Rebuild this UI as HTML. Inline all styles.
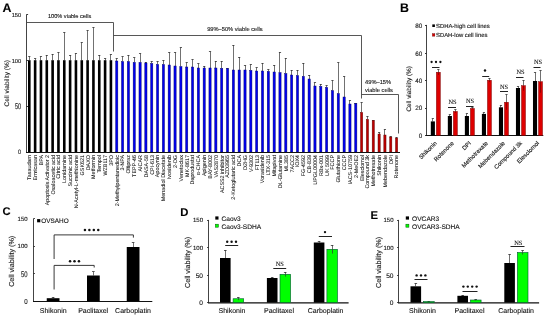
<!DOCTYPE html>
<html><head><meta charset="utf-8"><style>
html,body{margin:0;padding:0;background:#fff;}
svg{display:block;} text{stroke:#222;stroke-width:0.12px;text-rendering:geometricPrecision;} text.n{stroke-width:0.05px;}
</style></head><body>
<svg width="550" height="320" viewBox="0 0 550 320" style="will-change:transform">
<rect x="0" y="0" width="550" height="320" fill="#fff"/>
<text x="2.4" y="11.9" font-size="12.4" text-anchor="start" font-weight="bold" font-family='"Liberation Sans", sans-serif' fill="#000">A</text>
<path d="M26.5,152 V14.4" fill="none" stroke="#444" stroke-width="1"/>
<line x1="26.5" y1="14.5" x2="28.1" y2="14.5" stroke="#222" stroke-width="0.9"/>
<line x1="26.5" y1="60.5" x2="28.1" y2="60.5" stroke="#222" stroke-width="0.9"/>
<line x1="26.5" y1="106.5" x2="28.1" y2="106.5" stroke="#222" stroke-width="0.9"/>
<line x1="26.5" y1="152.5" x2="28.1" y2="152.5" stroke="#222" stroke-width="0.9"/>
<text x="21.3" y="17.0" font-size="5.8" text-anchor="end" font-weight="normal" font-family='"Liberation Sans", sans-serif' fill="#111">150</text>
<text x="21.3" y="62.6" font-size="5.8" text-anchor="end" font-weight="normal" font-family='"Liberation Sans", sans-serif' fill="#111">100</text>
<text x="0" y="0" font-size="8.2" font-family='"Liberation Sans", sans-serif' fill="#111" text-anchor="end" transform="translate(21.2 109.1) scale(0.68 1)">50</text>
<text x="0" y="0" font-size="6.5" font-family='"Liberation Sans", sans-serif' fill="#111" text-anchor="end" transform="translate(21.2 154.2) scale(0.85 1)">0</text>
<text x="0" y="0" font-size="6.5" font-family='"Liberation Sans", sans-serif' fill="#111" text-anchor="middle" transform="translate(9.2 83.3) rotate(-90)">Cell viability (%)</text>
<path d="M26.5,22.5 H113.5 V51.5" fill="none" stroke="#444" stroke-width="0.9"/>
<path d="M113.5,35.5 H361.5 V98.5" fill="none" stroke="#444" stroke-width="0.9"/>
<path d="M361.5,94.5 H398.5 V133.5" fill="none" stroke="#444" stroke-width="0.9"/>
<text x="48" y="18.1" font-size="5.6" text-anchor="start" font-weight="normal" font-family='"Liberation Sans", sans-serif' fill="#111">100% viable cells</text>
<text x="207.2" y="31.0" font-size="5.7" text-anchor="start" font-weight="normal" font-family='"Liberation Sans", sans-serif' fill="#111">99%–50% viable cells</text>
<text x="365.1" y="84.3" font-size="5.7" text-anchor="start" font-weight="normal" font-family='"Liberation Sans", sans-serif' fill="#111">49%–15%</text>
<text x="365.1" y="91.6" font-size="5.7" text-anchor="start" font-weight="normal" font-family='"Liberation Sans", sans-serif' fill="#111">viable cells</text>
<line x1="29.5" y1="60.2" x2="29.5" y2="56.4" stroke="#333" stroke-width="0.7"/>
<line x1="28.2" y1="56.5" x2="30.400000000000002" y2="56.5" stroke="#333" stroke-width="0.8"/>
<line x1="35.5" y1="60.2" x2="35.5" y2="58.6" stroke="#333" stroke-width="0.7"/>
<line x1="34.03" y1="58.5" x2="36.230000000000004" y2="58.5" stroke="#333" stroke-width="0.8"/>
<line x1="40.5" y1="60.2" x2="40.5" y2="56.4" stroke="#333" stroke-width="0.7"/>
<line x1="39.86" y1="56.5" x2="42.06" y2="56.5" stroke="#333" stroke-width="0.8"/>
<line x1="46.5" y1="60.2" x2="46.5" y2="55" stroke="#333" stroke-width="0.7"/>
<line x1="45.690000000000005" y1="55.5" x2="47.89000000000001" y2="55.5" stroke="#333" stroke-width="0.8"/>
<line x1="52.5" y1="60.2" x2="52.5" y2="54" stroke="#333" stroke-width="0.7"/>
<line x1="51.52" y1="54.5" x2="53.720000000000006" y2="54.5" stroke="#333" stroke-width="0.8"/>
<line x1="58.5" y1="60.2" x2="58.5" y2="52.4" stroke="#333" stroke-width="0.7"/>
<line x1="57.35" y1="52.5" x2="59.550000000000004" y2="52.5" stroke="#333" stroke-width="0.8"/>
<line x1="64.5" y1="60.2" x2="64.5" y2="32.3" stroke="#333" stroke-width="0.7"/>
<line x1="63.18" y1="32.5" x2="65.38" y2="32.5" stroke="#333" stroke-width="0.8"/>
<line x1="70.5" y1="60.2" x2="70.5" y2="55" stroke="#333" stroke-width="0.7"/>
<line x1="69.01" y1="55.5" x2="71.21" y2="55.5" stroke="#333" stroke-width="0.8"/>
<line x1="75.5" y1="60.2" x2="75.5" y2="53.4" stroke="#333" stroke-width="0.7"/>
<line x1="74.84" y1="53.5" x2="77.03999999999999" y2="53.5" stroke="#333" stroke-width="0.8"/>
<line x1="81.5" y1="60.2" x2="81.5" y2="42.4" stroke="#333" stroke-width="0.7"/>
<line x1="80.67" y1="42.5" x2="82.86999999999999" y2="42.5" stroke="#333" stroke-width="0.8"/>
<line x1="87.5" y1="60.2" x2="87.5" y2="30.4" stroke="#333" stroke-width="0.7"/>
<line x1="86.5" y1="30.5" x2="88.69999999999999" y2="30.5" stroke="#333" stroke-width="0.8"/>
<line x1="93.5" y1="60.2" x2="93.5" y2="27.4" stroke="#333" stroke-width="0.7"/>
<line x1="92.33" y1="27.5" x2="94.52999999999999" y2="27.5" stroke="#333" stroke-width="0.8"/>
<line x1="99.5" y1="60.2" x2="99.5" y2="55" stroke="#333" stroke-width="0.7"/>
<line x1="98.16000000000001" y1="55.5" x2="100.36" y2="55.5" stroke="#333" stroke-width="0.8"/>
<line x1="105.5" y1="60.2" x2="105.5" y2="58.5" stroke="#333" stroke-width="0.7"/>
<line x1="103.99000000000001" y1="58.5" x2="106.19" y2="58.5" stroke="#333" stroke-width="0.8"/>
<line x1="110.5" y1="60.2" x2="110.5" y2="54.3" stroke="#333" stroke-width="0.7"/>
<line x1="109.82000000000001" y1="54.5" x2="112.02" y2="54.5" stroke="#333" stroke-width="0.8"/>
<line x1="116.5" y1="61" x2="116.5" y2="58.4" stroke="#333" stroke-width="0.7"/>
<line x1="115.65" y1="58.5" x2="117.85" y2="58.5" stroke="#333" stroke-width="0.8"/>
<line x1="122.5" y1="61.6" x2="122.5" y2="56.6" stroke="#333" stroke-width="0.7"/>
<line x1="121.48" y1="56.5" x2="123.67999999999999" y2="56.5" stroke="#333" stroke-width="0.8"/>
<line x1="128.5" y1="61.6" x2="128.5" y2="55" stroke="#333" stroke-width="0.7"/>
<line x1="127.31" y1="55.5" x2="129.51" y2="55.5" stroke="#333" stroke-width="0.8"/>
<line x1="134.5" y1="62.4" x2="134.5" y2="57.6" stroke="#333" stroke-width="0.7"/>
<line x1="133.14000000000001" y1="57.5" x2="135.34" y2="57.5" stroke="#333" stroke-width="0.8"/>
<line x1="140.5" y1="62.4" x2="140.5" y2="53.6" stroke="#333" stroke-width="0.7"/>
<line x1="138.97" y1="53.5" x2="141.17" y2="53.5" stroke="#333" stroke-width="0.8"/>
<line x1="145.5" y1="63" x2="145.5" y2="62" stroke="#333" stroke-width="0.7"/>
<line x1="144.8" y1="62.5" x2="147.0" y2="62.5" stroke="#333" stroke-width="0.8"/>
<line x1="151.5" y1="63.6" x2="151.5" y2="61.4" stroke="#333" stroke-width="0.7"/>
<line x1="150.63000000000002" y1="61.5" x2="152.83" y2="61.5" stroke="#333" stroke-width="0.8"/>
<line x1="157.5" y1="64.4" x2="157.5" y2="61.4" stroke="#333" stroke-width="0.7"/>
<line x1="156.46" y1="61.5" x2="158.66" y2="61.5" stroke="#333" stroke-width="0.8"/>
<line x1="163.5" y1="64.6" x2="163.5" y2="60.4" stroke="#333" stroke-width="0.7"/>
<line x1="162.29000000000002" y1="60.5" x2="164.49" y2="60.5" stroke="#333" stroke-width="0.8"/>
<line x1="169.5" y1="65" x2="169.5" y2="52.4" stroke="#333" stroke-width="0.7"/>
<line x1="168.12000000000003" y1="52.5" x2="170.32000000000002" y2="52.5" stroke="#333" stroke-width="0.8"/>
<line x1="175.5" y1="66" x2="175.5" y2="52.4" stroke="#333" stroke-width="0.7"/>
<line x1="173.95000000000002" y1="52.5" x2="176.15" y2="52.5" stroke="#333" stroke-width="0.8"/>
<line x1="180.5" y1="66.6" x2="180.5" y2="47.6" stroke="#333" stroke-width="0.7"/>
<line x1="179.78000000000003" y1="47.5" x2="181.98000000000002" y2="47.5" stroke="#333" stroke-width="0.8"/>
<line x1="186.5" y1="67" x2="186.5" y2="62.6" stroke="#333" stroke-width="0.7"/>
<line x1="185.61" y1="62.5" x2="187.81" y2="62.5" stroke="#333" stroke-width="0.8"/>
<line x1="192.5" y1="67" x2="192.5" y2="59.6" stroke="#333" stroke-width="0.7"/>
<line x1="191.44000000000003" y1="59.5" x2="193.64000000000001" y2="59.5" stroke="#333" stroke-width="0.8"/>
<line x1="198.5" y1="68" x2="198.5" y2="63.6" stroke="#333" stroke-width="0.7"/>
<line x1="197.27" y1="63.5" x2="199.47" y2="63.5" stroke="#333" stroke-width="0.8"/>
<line x1="204.5" y1="68" x2="204.5" y2="66" stroke="#333" stroke-width="0.7"/>
<line x1="203.10000000000002" y1="66.5" x2="205.3" y2="66.5" stroke="#333" stroke-width="0.8"/>
<line x1="210.5" y1="68" x2="210.5" y2="51.6" stroke="#333" stroke-width="0.7"/>
<line x1="208.93" y1="51.5" x2="211.13" y2="51.5" stroke="#333" stroke-width="0.8"/>
<line x1="215.5" y1="68" x2="215.5" y2="61" stroke="#333" stroke-width="0.7"/>
<line x1="214.76000000000002" y1="61.5" x2="216.96" y2="61.5" stroke="#333" stroke-width="0.8"/>
<line x1="221.5" y1="68.4" x2="221.5" y2="61" stroke="#333" stroke-width="0.7"/>
<line x1="220.59000000000003" y1="61.5" x2="222.79000000000002" y2="61.5" stroke="#333" stroke-width="0.8"/>
<line x1="227.5" y1="68.6" x2="227.5" y2="68" stroke="#333" stroke-width="0.7"/>
<line x1="226.42000000000002" y1="68.5" x2="228.62" y2="68.5" stroke="#333" stroke-width="0.8"/>
<line x1="233.5" y1="70" x2="233.5" y2="45" stroke="#333" stroke-width="0.7"/>
<line x1="232.25000000000003" y1="45.5" x2="234.45000000000002" y2="45.5" stroke="#333" stroke-width="0.8"/>
<line x1="239.5" y1="70" x2="239.5" y2="57" stroke="#333" stroke-width="0.7"/>
<line x1="238.08" y1="57.5" x2="240.28" y2="57.5" stroke="#333" stroke-width="0.8"/>
<line x1="245.5" y1="70" x2="245.5" y2="65.4" stroke="#333" stroke-width="0.7"/>
<line x1="243.91000000000003" y1="65.5" x2="246.11" y2="65.5" stroke="#333" stroke-width="0.8"/>
<line x1="250.5" y1="70.4" x2="250.5" y2="64.4" stroke="#333" stroke-width="0.7"/>
<line x1="249.74" y1="64.5" x2="251.94" y2="64.5" stroke="#333" stroke-width="0.8"/>
<line x1="256.5" y1="71" x2="256.5" y2="67.6" stroke="#333" stroke-width="0.7"/>
<line x1="255.57000000000002" y1="67.5" x2="257.77000000000004" y2="67.5" stroke="#333" stroke-width="0.8"/>
<line x1="262.5" y1="71" x2="262.5" y2="63" stroke="#333" stroke-width="0.7"/>
<line x1="261.4" y1="63.5" x2="263.6" y2="63.5" stroke="#333" stroke-width="0.8"/>
<line x1="268.5" y1="71.4" x2="268.5" y2="69.4" stroke="#333" stroke-width="0.7"/>
<line x1="267.22999999999996" y1="69.5" x2="269.43" y2="69.5" stroke="#333" stroke-width="0.8"/>
<line x1="274.5" y1="72" x2="274.5" y2="65" stroke="#333" stroke-width="0.7"/>
<line x1="273.06" y1="65.5" x2="275.26000000000005" y2="65.5" stroke="#333" stroke-width="0.8"/>
<line x1="279.5" y1="72.6" x2="279.5" y2="52" stroke="#333" stroke-width="0.7"/>
<line x1="278.89" y1="52.5" x2="281.09000000000003" y2="52.5" stroke="#333" stroke-width="0.8"/>
<line x1="285.5" y1="73.6" x2="285.5" y2="58" stroke="#333" stroke-width="0.7"/>
<line x1="284.71999999999997" y1="58.5" x2="286.92" y2="58.5" stroke="#333" stroke-width="0.8"/>
<line x1="291.5" y1="75" x2="291.5" y2="70" stroke="#333" stroke-width="0.7"/>
<line x1="290.55" y1="70.5" x2="292.75000000000006" y2="70.5" stroke="#333" stroke-width="0.8"/>
<line x1="297.5" y1="75.6" x2="297.5" y2="70" stroke="#333" stroke-width="0.7"/>
<line x1="296.38" y1="70.5" x2="298.58000000000004" y2="70.5" stroke="#333" stroke-width="0.8"/>
<line x1="303.5" y1="76.4" x2="303.5" y2="63" stroke="#333" stroke-width="0.7"/>
<line x1="302.21" y1="63.5" x2="304.41" y2="63.5" stroke="#333" stroke-width="0.8"/>
<line x1="309.5" y1="79" x2="309.5" y2="75" stroke="#333" stroke-width="0.7"/>
<line x1="308.04" y1="75.5" x2="310.24000000000007" y2="75.5" stroke="#333" stroke-width="0.8"/>
<line x1="314.5" y1="86" x2="314.5" y2="82.6" stroke="#333" stroke-width="0.7"/>
<line x1="313.87" y1="82.5" x2="316.07000000000005" y2="82.5" stroke="#333" stroke-width="0.8"/>
<line x1="320.5" y1="86.4" x2="320.5" y2="84" stroke="#333" stroke-width="0.7"/>
<line x1="319.7" y1="84.5" x2="321.90000000000003" y2="84.5" stroke="#333" stroke-width="0.8"/>
<line x1="326.5" y1="87.4" x2="326.5" y2="85.6" stroke="#333" stroke-width="0.7"/>
<line x1="325.53" y1="85.5" x2="327.73" y2="85.5" stroke="#333" stroke-width="0.8"/>
<line x1="332.5" y1="90.6" x2="332.5" y2="80.4" stroke="#333" stroke-width="0.7"/>
<line x1="331.36" y1="80.5" x2="333.56000000000006" y2="80.5" stroke="#333" stroke-width="0.8"/>
<line x1="338.5" y1="93.6" x2="338.5" y2="62.6" stroke="#333" stroke-width="0.7"/>
<line x1="337.19" y1="62.5" x2="339.39000000000004" y2="62.5" stroke="#333" stroke-width="0.8"/>
<line x1="344.5" y1="97" x2="344.5" y2="76.4" stroke="#333" stroke-width="0.7"/>
<line x1="343.02" y1="76.5" x2="345.22" y2="76.5" stroke="#333" stroke-width="0.8"/>
<line x1="349.5" y1="104" x2="349.5" y2="100.4" stroke="#333" stroke-width="0.7"/>
<line x1="348.84999999999997" y1="100.5" x2="351.05" y2="100.5" stroke="#333" stroke-width="0.8"/>
<line x1="355.5" y1="103.6" x2="355.5" y2="103" stroke="#333" stroke-width="0.7"/>
<line x1="354.68" y1="103.5" x2="356.88000000000005" y2="103.5" stroke="#333" stroke-width="0.8"/>
<line x1="361.5" y1="112.4" x2="361.5" y2="102.4" stroke="#333" stroke-width="0.7"/>
<line x1="360.51" y1="102.5" x2="362.71000000000004" y2="102.5" stroke="#333" stroke-width="0.8"/>
<line x1="367.5" y1="119.4" x2="367.5" y2="116.4" stroke="#333" stroke-width="0.7"/>
<line x1="366.34" y1="116.5" x2="368.54" y2="116.5" stroke="#333" stroke-width="0.8"/>
<line x1="373.5" y1="120.6" x2="373.5" y2="120" stroke="#333" stroke-width="0.7"/>
<line x1="372.17" y1="120.5" x2="374.37000000000006" y2="120.5" stroke="#333" stroke-width="0.8"/>
<line x1="379.5" y1="134" x2="379.5" y2="132.4" stroke="#333" stroke-width="0.7"/>
<line x1="378.0" y1="132.5" x2="380.20000000000005" y2="132.5" stroke="#333" stroke-width="0.8"/>
<line x1="384.5" y1="135" x2="384.5" y2="129.4" stroke="#333" stroke-width="0.7"/>
<line x1="383.83" y1="129.5" x2="386.03000000000003" y2="129.5" stroke="#333" stroke-width="0.8"/>
<line x1="390.5" y1="137" x2="390.5" y2="136.5" stroke="#333" stroke-width="0.7"/>
<line x1="389.65999999999997" y1="136.5" x2="391.86" y2="136.5" stroke="#333" stroke-width="0.8"/>
<line x1="396.5" y1="138" x2="396.5" y2="137.2" stroke="#333" stroke-width="0.7"/>
<line x1="395.49" y1="137.5" x2="397.69000000000005" y2="137.5" stroke="#333" stroke-width="0.8"/>
<rect x="28.00" y="60.20" width="2.60" height="91.80" fill="#000"/>
<rect x="33.83" y="60.20" width="2.60" height="91.80" fill="#000"/>
<rect x="39.66" y="60.20" width="2.60" height="91.80" fill="#000"/>
<rect x="45.49" y="60.20" width="2.60" height="91.80" fill="#000"/>
<rect x="51.32" y="60.20" width="2.60" height="91.80" fill="#000"/>
<rect x="57.15" y="60.20" width="2.60" height="91.80" fill="#000"/>
<rect x="62.98" y="60.20" width="2.60" height="91.80" fill="#000"/>
<rect x="68.81" y="60.20" width="2.60" height="91.80" fill="#000"/>
<rect x="74.64" y="60.20" width="2.60" height="91.80" fill="#000"/>
<rect x="80.47" y="60.20" width="2.60" height="91.80" fill="#000"/>
<rect x="86.30" y="60.20" width="2.60" height="91.80" fill="#000"/>
<rect x="92.13" y="60.20" width="2.60" height="91.80" fill="#000"/>
<rect x="97.96" y="60.20" width="2.60" height="91.80" fill="#000"/>
<rect x="103.79" y="60.20" width="2.60" height="91.80" fill="#000"/>
<rect x="109.62" y="60.20" width="2.60" height="91.80" fill="#000"/>
<rect x="115.65" y="61.00" width="2.20" height="91.00" fill="#0000f0" stroke="#00006a" stroke-width="0.45"/>
<rect x="121.48" y="61.60" width="2.20" height="90.40" fill="#0000f0" stroke="#00006a" stroke-width="0.45"/>
<rect x="127.31" y="61.60" width="2.20" height="90.40" fill="#0000f0" stroke="#00006a" stroke-width="0.45"/>
<rect x="133.14" y="62.40" width="2.20" height="89.60" fill="#0000f0" stroke="#00006a" stroke-width="0.45"/>
<rect x="138.97" y="62.40" width="2.20" height="89.60" fill="#0000f0" stroke="#00006a" stroke-width="0.45"/>
<rect x="144.80" y="63.00" width="2.20" height="89.00" fill="#0000f0" stroke="#00006a" stroke-width="0.45"/>
<rect x="150.63" y="63.60" width="2.20" height="88.40" fill="#0000f0" stroke="#00006a" stroke-width="0.45"/>
<rect x="156.46" y="64.40" width="2.20" height="87.60" fill="#0000f0" stroke="#00006a" stroke-width="0.45"/>
<rect x="162.29" y="64.60" width="2.20" height="87.40" fill="#0000f0" stroke="#00006a" stroke-width="0.45"/>
<rect x="168.12" y="65.00" width="2.20" height="87.00" fill="#0000f0" stroke="#00006a" stroke-width="0.45"/>
<rect x="173.95" y="66.00" width="2.20" height="86.00" fill="#0000f0" stroke="#00006a" stroke-width="0.45"/>
<rect x="179.78" y="66.60" width="2.20" height="85.40" fill="#0000f0" stroke="#00006a" stroke-width="0.45"/>
<rect x="185.61" y="67.00" width="2.20" height="85.00" fill="#0000f0" stroke="#00006a" stroke-width="0.45"/>
<rect x="191.44" y="67.00" width="2.20" height="85.00" fill="#0000f0" stroke="#00006a" stroke-width="0.45"/>
<rect x="197.27" y="68.00" width="2.20" height="84.00" fill="#0000f0" stroke="#00006a" stroke-width="0.45"/>
<rect x="203.10" y="68.00" width="2.20" height="84.00" fill="#0000f0" stroke="#00006a" stroke-width="0.45"/>
<rect x="208.93" y="68.00" width="2.20" height="84.00" fill="#0000f0" stroke="#00006a" stroke-width="0.45"/>
<rect x="214.76" y="68.00" width="2.20" height="84.00" fill="#0000f0" stroke="#00006a" stroke-width="0.45"/>
<rect x="220.59" y="68.40" width="2.20" height="83.60" fill="#0000f0" stroke="#00006a" stroke-width="0.45"/>
<rect x="226.42" y="68.60" width="2.20" height="83.40" fill="#0000f0" stroke="#00006a" stroke-width="0.45"/>
<rect x="232.25" y="70.00" width="2.20" height="82.00" fill="#0000f0" stroke="#00006a" stroke-width="0.45"/>
<rect x="238.08" y="70.00" width="2.20" height="82.00" fill="#0000f0" stroke="#00006a" stroke-width="0.45"/>
<rect x="243.91" y="70.00" width="2.20" height="82.00" fill="#0000f0" stroke="#00006a" stroke-width="0.45"/>
<rect x="249.74" y="70.40" width="2.20" height="81.60" fill="#0000f0" stroke="#00006a" stroke-width="0.45"/>
<rect x="255.57" y="71.00" width="2.20" height="81.00" fill="#0000f0" stroke="#00006a" stroke-width="0.45"/>
<rect x="261.40" y="71.00" width="2.20" height="81.00" fill="#0000f0" stroke="#00006a" stroke-width="0.45"/>
<rect x="267.23" y="71.40" width="2.20" height="80.60" fill="#0000f0" stroke="#00006a" stroke-width="0.45"/>
<rect x="273.06" y="72.00" width="2.20" height="80.00" fill="#0000f0" stroke="#00006a" stroke-width="0.45"/>
<rect x="278.89" y="72.60" width="2.20" height="79.40" fill="#0000f0" stroke="#00006a" stroke-width="0.45"/>
<rect x="284.72" y="73.60" width="2.20" height="78.40" fill="#0000f0" stroke="#00006a" stroke-width="0.45"/>
<rect x="290.55" y="75.00" width="2.20" height="77.00" fill="#0000f0" stroke="#00006a" stroke-width="0.45"/>
<rect x="296.38" y="75.60" width="2.20" height="76.40" fill="#0000f0" stroke="#00006a" stroke-width="0.45"/>
<rect x="302.21" y="76.40" width="2.20" height="75.60" fill="#0000f0" stroke="#00006a" stroke-width="0.45"/>
<rect x="308.04" y="79.00" width="2.20" height="73.00" fill="#0000f0" stroke="#00006a" stroke-width="0.45"/>
<rect x="313.87" y="86.00" width="2.20" height="66.00" fill="#0000f0" stroke="#00006a" stroke-width="0.45"/>
<rect x="319.70" y="86.40" width="2.20" height="65.60" fill="#0000f0" stroke="#00006a" stroke-width="0.45"/>
<rect x="325.53" y="87.40" width="2.20" height="64.60" fill="#0000f0" stroke="#00006a" stroke-width="0.45"/>
<rect x="331.36" y="90.60" width="2.20" height="61.40" fill="#0000f0" stroke="#00006a" stroke-width="0.45"/>
<rect x="337.19" y="93.60" width="2.20" height="58.40" fill="#0000f0" stroke="#00006a" stroke-width="0.45"/>
<rect x="343.02" y="97.00" width="2.20" height="55.00" fill="#0000f0" stroke="#00006a" stroke-width="0.45"/>
<rect x="348.85" y="104.00" width="2.20" height="48.00" fill="#0000f0" stroke="#00006a" stroke-width="0.45"/>
<rect x="354.68" y="103.60" width="2.20" height="48.40" fill="#0000f0" stroke="#00006a" stroke-width="0.45"/>
<rect x="360.51" y="112.40" width="2.20" height="39.60" fill="#bb0000" stroke="#600000" stroke-width="0.45"/>
<rect x="366.34" y="119.40" width="2.20" height="32.60" fill="#bb0000" stroke="#600000" stroke-width="0.45"/>
<rect x="372.17" y="120.60" width="2.20" height="31.40" fill="#bb0000" stroke="#600000" stroke-width="0.45"/>
<rect x="378.00" y="134.00" width="2.20" height="18.00" fill="#bb0000" stroke="#600000" stroke-width="0.45"/>
<rect x="383.83" y="135.00" width="2.20" height="17.00" fill="#bb0000" stroke="#600000" stroke-width="0.45"/>
<rect x="389.66" y="137.00" width="2.20" height="15.00" fill="#bb0000" stroke="#600000" stroke-width="0.45"/>
<rect x="395.49" y="138.00" width="2.20" height="14.00" fill="#bb0000" stroke="#600000" stroke-width="0.45"/>
<line x1="26.0" y1="152.5" x2="400" y2="152.5" stroke="#111" stroke-width="1.2"/>
<text class="n" x="0" y="0" font-size="5.4" font-family='"Liberation Sans", sans-serif' fill="#111" text-anchor="end" transform="translate(31.20 155) rotate(-90)">Tasaudam</text>
<text class="n" x="0" y="0" font-size="5.4" font-family='"Liberation Sans", sans-serif' fill="#111" text-anchor="end" transform="translate(37.03 155) rotate(-90)">Emricasan</text>
<text class="n" x="0" y="0" font-size="5.4" font-family='"Liberation Sans", sans-serif' fill="#111" text-anchor="end" transform="translate(42.86 155) rotate(-90)">BPA</text>
<text class="n" x="0" y="0" font-size="5.4" font-family='"Liberation Sans", sans-serif' fill="#111" text-anchor="end" transform="translate(48.69 155) rotate(-90)">Apoptosis Activator 2</text>
<text class="n" x="0" y="0" font-size="5.4" font-family='"Liberation Sans", sans-serif' fill="#111" text-anchor="end" transform="translate(54.52 155) rotate(-90)">Oxaloacetic acid</text>
<text class="n" x="0" y="0" font-size="5.4" font-family='"Liberation Sans", sans-serif' fill="#111" text-anchor="end" transform="translate(60.35 155) rotate(-90)">Citric acid</text>
<text class="n" x="0" y="0" font-size="5.4" font-family='"Liberation Sans", sans-serif' fill="#111" text-anchor="end" transform="translate(66.18 155) rotate(-90)">Lonidamine</text>
<text class="n" x="0" y="0" font-size="5.4" font-family='"Liberation Sans", sans-serif' fill="#111" text-anchor="end" transform="translate(72.01 155) rotate(-90)">Succinic acid</text>
<text class="n" x="0" y="0" font-size="5.4" font-family='"Liberation Sans", sans-serif' fill="#111" text-anchor="end" transform="translate(77.84 155) rotate(-90)">N-Acetyl-L-methionine</text>
<text class="n" x="0" y="0" font-size="5.4" font-family='"Liberation Sans", sans-serif' fill="#111" text-anchor="end" transform="translate(83.67 155) rotate(-90)">GSK621</text>
<text class="n" x="0" y="0" font-size="5.4" font-family='"Liberation Sans", sans-serif' fill="#111" text-anchor="end" transform="translate(89.50 155) rotate(-90)">DAXO</text>
<text class="n" x="0" y="0" font-size="5.4" font-family='"Liberation Sans", sans-serif' fill="#111" text-anchor="end" transform="translate(95.33 155) rotate(-90)">Metformin</text>
<text class="n" x="0" y="0" font-size="5.4" font-family='"Liberation Sans", sans-serif' fill="#111" text-anchor="end" transform="translate(101.16 155) rotate(-90)">Tempol</text>
<text class="n" x="0" y="0" font-size="5.4" font-family='"Liberation Sans", sans-serif' fill="#111" text-anchor="end" transform="translate(106.99 155) rotate(-90)">WZB117</text>
<text class="n" x="0" y="0" font-size="5.4" font-family='"Liberation Sans", sans-serif' fill="#111" text-anchor="end" transform="translate(112.82 155) rotate(-90)">3PO</text>
<text class="n" x="0" y="0" font-size="5.4" font-family='"Liberation Sans", sans-serif' fill="#111" text-anchor="end" transform="translate(118.65 155) rotate(-90)">2-Methylpentanedioic</text>
<text class="n" x="0" y="0" font-size="5.4" font-family='"Liberation Sans", sans-serif' fill="#111" text-anchor="end" transform="translate(124.48 155) rotate(-90)">3-NPA</text>
<text class="n" x="0" y="0" font-size="5.4" font-family='"Liberation Sans", sans-serif' fill="#111" text-anchor="end" transform="translate(130.31 155) rotate(-90)">Oltipraz</text>
<text class="n" x="0" y="0" font-size="5.4" font-family='"Liberation Sans", sans-serif' fill="#111" text-anchor="end" transform="translate(136.14 155) rotate(-90)">TEPP-46</text>
<text class="n" x="0" y="0" font-size="5.4" font-family='"Liberation Sans", sans-serif' fill="#111" text-anchor="end" transform="translate(141.97 155) rotate(-90)">AICAR</text>
<text class="n" x="0" y="0" font-size="5.4" font-family='"Liberation Sans", sans-serif' fill="#111" text-anchor="end" transform="translate(147.80 155) rotate(-90)">DASA-58</text>
<text class="n" x="0" y="0" font-size="5.4" font-family='"Liberation Sans", sans-serif' fill="#111" text-anchor="end" transform="translate(153.63 155) rotate(-90)">CPI-613</text>
<text class="n" x="0" y="0" font-size="5.4" font-family='"Liberation Sans", sans-serif' fill="#111" text-anchor="end" transform="translate(159.46 155) rotate(-90)">Apocynin</text>
<text class="n" x="0" y="0" font-size="5.4" font-family='"Liberation Sans", sans-serif' fill="#111" text-anchor="end" transform="translate(165.29 155) rotate(-90)">Menadiol Diacetate</text>
<text class="n" x="0" y="0" font-size="5.4" font-family='"Liberation Sans", sans-serif' fill="#111" text-anchor="end" transform="translate(171.12 155) rotate(-90)">Ivosidenib</text>
<text class="n" x="0" y="0" font-size="5.4" font-family='"Liberation Sans", sans-serif' fill="#111" text-anchor="end" transform="translate(176.95 155) rotate(-90)">2-DG</text>
<text class="n" x="0" y="0" font-size="5.4" font-family='"Liberation Sans", sans-serif' fill="#111" text-anchor="end" transform="translate(182.78 155) rotate(-90)">Venetoclax</text>
<text class="n" x="0" y="0" font-size="5.4" font-family='"Liberation Sans", sans-serif' fill="#111" text-anchor="end" transform="translate(188.61 155) rotate(-90)">MK-8617</text>
<text class="n" x="0" y="0" font-size="5.4" font-family='"Liberation Sans", sans-serif' fill="#111" text-anchor="end" transform="translate(194.44 155) rotate(-90)">Daprodustat</text>
<text class="n" x="0" y="0" font-size="5.4" font-family='"Liberation Sans", sans-serif' fill="#111" text-anchor="end" transform="translate(200.27 155) rotate(-90)">α-CHCA</text>
<text class="n" x="0" y="0" font-size="5.4" font-family='"Liberation Sans", sans-serif' fill="#111" text-anchor="end" transform="translate(206.10 155) rotate(-90)">Apigenin</text>
<text class="n" x="0" y="0" font-size="5.4" font-family='"Liberation Sans", sans-serif' fill="#111" text-anchor="end" transform="translate(211.93 155) rotate(-90)">BAY-8002</text>
<text class="n" x="0" y="0" font-size="5.4" font-family='"Liberation Sans", sans-serif' fill="#111" text-anchor="end" transform="translate(217.76 155) rotate(-90)">VAS2870</text>
<text class="n" x="0" y="0" font-size="5.4" font-family='"Liberation Sans", sans-serif' fill="#111" text-anchor="end" transform="translate(223.59 155) rotate(-90)">ACSS2 inhibitor</text>
<text class="n" x="0" y="0" font-size="5.4" font-family='"Liberation Sans", sans-serif' fill="#111" text-anchor="end" transform="translate(229.42 155) rotate(-90)">AZD3965</text>
<text class="n" x="0" y="0" font-size="5.4" font-family='"Liberation Sans", sans-serif' fill="#111" text-anchor="end" transform="translate(235.25 155) rotate(-90)">2-Ketoglutaric acid</text>
<text class="n" x="0" y="0" font-size="5.4" font-family='"Liberation Sans", sans-serif' fill="#111" text-anchor="end" transform="translate(241.08 155) rotate(-90)">DCA</text>
<text class="n" x="0" y="0" font-size="5.4" font-family='"Liberation Sans", sans-serif' fill="#111" text-anchor="end" transform="translate(246.91 155) rotate(-90)">D2HG</text>
<text class="n" x="0" y="0" font-size="5.4" font-family='"Liberation Sans", sans-serif' fill="#111" text-anchor="end" transform="translate(252.74 155) rotate(-90)">V-9302</text>
<text class="n" x="0" y="0" font-size="5.4" font-family='"Liberation Sans", sans-serif' fill="#111" text-anchor="end" transform="translate(258.57 155) rotate(-90)">FT113</text>
<text class="n" x="0" y="0" font-size="5.4" font-family='"Liberation Sans", sans-serif' fill="#111" text-anchor="end" transform="translate(264.40 155) rotate(-90)">Vorasidenib</text>
<text class="n" x="0" y="0" font-size="5.4" font-family='"Liberation Sans", sans-serif' fill="#111" text-anchor="end" transform="translate(270.23 155) rotate(-90)">LTX-315</text>
<text class="n" x="0" y="0" font-size="5.4" font-family='"Liberation Sans", sans-serif' fill="#111" text-anchor="end" transform="translate(276.06 155) rotate(-90)">Mitapivat</text>
<text class="n" x="0" y="0" font-size="5.4" font-family='"Liberation Sans", sans-serif' fill="#111" text-anchor="end" transform="translate(281.89 155) rotate(-90)">DL-Glutamine</text>
<text class="n" x="0" y="0" font-size="5.4" font-family='"Liberation Sans", sans-serif' fill="#111" text-anchor="end" transform="translate(287.72 155) rotate(-90)">ML385</text>
<text class="n" x="0" y="0" font-size="5.4" font-family='"Liberation Sans", sans-serif' fill="#111" text-anchor="end" transform="translate(293.55 155) rotate(-90)">7ACC2</text>
<text class="n" x="0" y="0" font-size="5.4" font-family='"Liberation Sans", sans-serif' fill="#111" text-anchor="end" transform="translate(299.38 155) rotate(-90)">IOX4</text>
<text class="n" x="0" y="0" font-size="5.4" font-family='"Liberation Sans", sans-serif' fill="#111" text-anchor="end" transform="translate(305.21 155) rotate(-90)">FG-4592</text>
<text class="n" x="0" y="0" font-size="5.4" font-family='"Liberation Sans", sans-serif' fill="#111" text-anchor="end" transform="translate(311.04 155) rotate(-90)">CB-839</text>
<text class="n" x="0" y="0" font-size="5.4" font-family='"Liberation Sans", sans-serif' fill="#111" text-anchor="end" transform="translate(316.87 155) rotate(-90)">UPGL00004</text>
<text class="n" x="0" y="0" font-size="5.4" font-family='"Liberation Sans", sans-serif' fill="#111" text-anchor="end" transform="translate(322.70 155) rotate(-90)">RBx-001</text>
<text class="n" x="0" y="0" font-size="5.4" font-family='"Liberation Sans", sans-serif' fill="#111" text-anchor="end" transform="translate(328.53 155) rotate(-90)">UK 5099</text>
<text class="n" x="0" y="0" font-size="5.4" font-family='"Liberation Sans", sans-serif' fill="#111" text-anchor="end" transform="translate(334.36 155) rotate(-90)">FCCP</text>
<text class="n" x="0" y="0" font-size="5.4" font-family='"Liberation Sans", sans-serif' fill="#111" text-anchor="end" transform="translate(340.19 155) rotate(-90)">Glutathione</text>
<text class="n" x="0" y="0" font-size="5.4" font-family='"Liberation Sans", sans-serif' fill="#111" text-anchor="end" transform="translate(346.02 155) rotate(-90)">CCCP</text>
<text class="n" x="0" y="0" font-size="5.4" font-family='"Liberation Sans", sans-serif' fill="#111" text-anchor="end" transform="translate(351.85 155) rotate(-90)">IACS-10759</text>
<text class="n" x="0" y="0" font-size="5.4" font-family='"Liberation Sans", sans-serif' fill="#111" text-anchor="end" transform="translate(357.68 155) rotate(-90)">2-MeOE2</text>
<text class="n" x="0" y="0" font-size="5.4" font-family='"Liberation Sans", sans-serif' fill="#111" text-anchor="end" transform="translate(363.51 155) rotate(-90)">Elesclomol</text>
<text class="n" x="0" y="0" font-size="5.4" font-family='"Liberation Sans", sans-serif' fill="#111" text-anchor="end" transform="translate(369.34 155) rotate(-90)">Compound 3k</text>
<text class="n" x="0" y="0" font-size="5.4" font-family='"Liberation Sans", sans-serif' fill="#111" text-anchor="end" transform="translate(375.17 155) rotate(-90)">Methotrexate</text>
<text class="n" x="0" y="0" font-size="5.4" font-family='"Liberation Sans", sans-serif' fill="#111" text-anchor="end" transform="translate(381.00 155) rotate(-90)">Shikonin</text>
<text class="n" x="0" y="0" font-size="5.4" font-family='"Liberation Sans", sans-serif' fill="#111" text-anchor="end" transform="translate(386.83 155) rotate(-90)">Mebendazole</text>
<text class="n" x="0" y="0" font-size="5.4" font-family='"Liberation Sans", sans-serif' fill="#111" text-anchor="end" transform="translate(392.66 155) rotate(-90)">DPI</text>
<text class="n" x="0" y="0" font-size="5.4" font-family='"Liberation Sans", sans-serif' fill="#111" text-anchor="end" transform="translate(398.49 155) rotate(-90)">Rotenone</text>
<text x="400.0" y="11.9" font-size="12.4" text-anchor="start" font-weight="bold" font-family='"Liberation Sans", sans-serif' fill="#000">B</text>
<path d="M426.5,135.5 V24.9" fill="none" stroke="#444" stroke-width="1"/>
<line x1="425.0" y1="135.5" x2="426.5" y2="135.5" stroke="#222" stroke-width="0.9"/>
<text x="422.2" y="137.7" font-size="6.3" text-anchor="end" font-weight="normal" font-family='"Liberation Sans", sans-serif' fill="#111">0</text>
<line x1="425.0" y1="108.5" x2="426.5" y2="108.5" stroke="#222" stroke-width="0.9"/>
<text x="422.2" y="110.3" font-size="6.3" text-anchor="end" font-weight="normal" font-family='"Liberation Sans", sans-serif' fill="#111">20</text>
<line x1="425.0" y1="80.5" x2="426.5" y2="80.5" stroke="#222" stroke-width="0.9"/>
<text x="422.2" y="82.89999999999999" font-size="6.3" text-anchor="end" font-weight="normal" font-family='"Liberation Sans", sans-serif' fill="#111">40</text>
<line x1="425.0" y1="53.5" x2="426.5" y2="53.5" stroke="#222" stroke-width="0.9"/>
<text x="422.2" y="55.5" font-size="6.3" text-anchor="end" font-weight="normal" font-family='"Liberation Sans", sans-serif' fill="#111">60</text>
<line x1="425.0" y1="25.5" x2="426.5" y2="25.5" stroke="#222" stroke-width="0.9"/>
<text x="422.2" y="28.09999999999999" font-size="6.3" text-anchor="end" font-weight="normal" font-family='"Liberation Sans", sans-serif' fill="#111">80</text>
<line x1="426.0" y1="135.5" x2="543.3" y2="135.5" stroke="#111" stroke-width="1.1"/>
<text x="0" y="0" font-size="6.4" font-family='"Liberation Sans", sans-serif' fill="#111" text-anchor="middle" transform="translate(411.2 88.9) rotate(-90)">Cell viability (%)</text>
<rect x="432.30" y="24.40" width="2.60" height="2.60" fill="#000"/>
<text x="436" y="28.0" font-size="5.9" text-anchor="start" font-weight="normal" font-family='"Liberation Sans", sans-serif' fill="#111">SDHA-high cell lines</text>
<rect x="432.30" y="33.60" width="2.60" height="2.60" fill="#d00000" stroke="#500" stroke-width="0.3"/>
<text x="436" y="37.3" font-size="5.9" text-anchor="start" font-weight="normal" font-family='"Liberation Sans", sans-serif' fill="#111">SDAH-low cell lines</text>
<line x1="432.5" y1="121.4" x2="432.5" y2="118.6" stroke="#333" stroke-width="0.7"/>
<line x1="431.75" y1="118.5" x2="433.95000000000005" y2="118.5" stroke="#333" stroke-width="0.8"/>
<line x1="438.5" y1="72.2" x2="438.5" y2="69.5" stroke="#333" stroke-width="0.7"/>
<line x1="437.25" y1="69.5" x2="439.45000000000005" y2="69.5" stroke="#333" stroke-width="0.8"/>
<rect x="430.80" y="121.40" width="4.10" height="14.10" fill="#000"/>
<rect x="436.30" y="72.20" width="4.10" height="63.30" fill="#dd0000" stroke="#600" stroke-width="0.4"/>
<line x1="438.5" y1="72.2" x2="438.5" y2="74.9" stroke="#700" stroke-width="0.7"/>
<line x1="449.5" y1="116.0" x2="449.5" y2="114.9" stroke="#333" stroke-width="0.7"/>
<line x1="448.78000000000003" y1="114.5" x2="450.9800000000001" y2="114.5" stroke="#333" stroke-width="0.8"/>
<line x1="455.5" y1="111.4" x2="455.5" y2="109.8" stroke="#333" stroke-width="0.7"/>
<line x1="454.28000000000003" y1="109.5" x2="456.4800000000001" y2="109.5" stroke="#333" stroke-width="0.8"/>
<rect x="447.83" y="116.00" width="4.10" height="19.50" fill="#000"/>
<rect x="453.33" y="111.40" width="4.10" height="24.10" fill="#dd0000" stroke="#600" stroke-width="0.4"/>
<line x1="455.5" y1="111.4" x2="455.5" y2="113.00000000000001" stroke="#700" stroke-width="0.7"/>
<line x1="466.5" y1="116.0" x2="466.5" y2="113.8" stroke="#333" stroke-width="0.7"/>
<line x1="465.81" y1="113.5" x2="468.01000000000005" y2="113.5" stroke="#333" stroke-width="0.8"/>
<line x1="472.5" y1="108.4" x2="472.5" y2="107.6" stroke="#333" stroke-width="0.7"/>
<line x1="471.31" y1="107.5" x2="473.51000000000005" y2="107.5" stroke="#333" stroke-width="0.8"/>
<rect x="464.86" y="116.00" width="4.10" height="19.50" fill="#000"/>
<rect x="470.36" y="108.40" width="4.10" height="27.10" fill="#dd0000" stroke="#600" stroke-width="0.4"/>
<line x1="472.5" y1="108.4" x2="472.5" y2="109.20000000000002" stroke="#700" stroke-width="0.7"/>
<line x1="483.5" y1="113.9" x2="483.5" y2="112.8" stroke="#333" stroke-width="0.7"/>
<line x1="482.84" y1="112.5" x2="485.04" y2="112.5" stroke="#333" stroke-width="0.8"/>
<line x1="489.5" y1="80.2" x2="489.5" y2="78.3" stroke="#333" stroke-width="0.7"/>
<line x1="488.34" y1="78.5" x2="490.54" y2="78.5" stroke="#333" stroke-width="0.8"/>
<rect x="481.89" y="113.90" width="4.10" height="21.60" fill="#000"/>
<rect x="487.39" y="80.20" width="4.10" height="55.30" fill="#dd0000" stroke="#600" stroke-width="0.4"/>
<line x1="489.5" y1="80.2" x2="489.5" y2="82.10000000000001" stroke="#700" stroke-width="0.7"/>
<line x1="500.5" y1="107.3" x2="500.5" y2="105.1" stroke="#333" stroke-width="0.7"/>
<line x1="499.87" y1="105.5" x2="502.07000000000005" y2="105.5" stroke="#333" stroke-width="0.8"/>
<line x1="506.5" y1="102.2" x2="506.5" y2="94.6" stroke="#333" stroke-width="0.7"/>
<line x1="505.37" y1="94.5" x2="507.57000000000005" y2="94.5" stroke="#333" stroke-width="0.8"/>
<rect x="498.92" y="107.30" width="4.10" height="28.20" fill="#000"/>
<rect x="504.42" y="102.20" width="4.10" height="33.30" fill="#dd0000" stroke="#600" stroke-width="0.4"/>
<line x1="506.5" y1="102.2" x2="506.5" y2="109.80000000000001" stroke="#700" stroke-width="0.7"/>
<line x1="518.5" y1="88.0" x2="518.5" y2="86.8" stroke="#333" stroke-width="0.7"/>
<line x1="516.9" y1="86.5" x2="519.1" y2="86.5" stroke="#333" stroke-width="0.8"/>
<line x1="523.5" y1="85.6" x2="523.5" y2="80.5" stroke="#333" stroke-width="0.7"/>
<line x1="522.4" y1="80.5" x2="524.6" y2="80.5" stroke="#333" stroke-width="0.8"/>
<rect x="515.95" y="88.00" width="4.10" height="47.50" fill="#000"/>
<rect x="521.45" y="85.60" width="4.10" height="49.90" fill="#dd0000" stroke="#600" stroke-width="0.4"/>
<line x1="523.5" y1="85.6" x2="523.5" y2="90.69999999999999" stroke="#700" stroke-width="0.7"/>
<line x1="535.5" y1="81.0" x2="535.5" y2="72.5" stroke="#333" stroke-width="0.7"/>
<line x1="533.93" y1="72.5" x2="536.13" y2="72.5" stroke="#333" stroke-width="0.8"/>
<line x1="540.5" y1="81.6" x2="540.5" y2="70.5" stroke="#333" stroke-width="0.7"/>
<line x1="539.43" y1="70.5" x2="541.63" y2="70.5" stroke="#333" stroke-width="0.8"/>
<rect x="532.98" y="81.00" width="4.10" height="54.50" fill="#000"/>
<rect x="538.48" y="81.60" width="4.10" height="53.90" fill="#dd0000" stroke="#600" stroke-width="0.4"/>
<line x1="540.5" y1="81.6" x2="540.5" y2="92.69999999999999" stroke="#700" stroke-width="0.7"/>
<circle cx="431.60" cy="62" r="1.15" fill="#111"/>
<circle cx="436.00" cy="62" r="1.15" fill="#111"/>
<circle cx="440.40" cy="62" r="1.15" fill="#111"/>
<line x1="432" y1="67.5" x2="439.5" y2="67.5" stroke="#222" stroke-width="1.0"/>
<circle cx="485.00" cy="70.5" r="1.2" fill="#111"/>
<line x1="482.2" y1="76.5" x2="489.2" y2="76.5" stroke="#222" stroke-width="1.0"/>
<text x="452.5" y="103.8" font-size="6.4" text-anchor="middle" font-weight="normal" font-family='"Liberation Serif", serif' fill="#111">NS</text>
<line x1="448" y1="107.5" x2="456" y2="107.5" stroke="#222" stroke-width="1.0"/>
<text x="470" y="102.8" font-size="6.4" text-anchor="middle" font-weight="normal" font-family='"Liberation Serif", serif' fill="#111">NS</text>
<line x1="466" y1="106.5" x2="473.5" y2="106.5" stroke="#222" stroke-width="1.0"/>
<text x="504" y="89.2" font-size="6.4" text-anchor="middle" font-weight="normal" font-family='"Liberation Serif", serif' fill="#111">NS</text>
<line x1="500" y1="91.5" x2="508" y2="91.5" stroke="#222" stroke-width="1.0"/>
<text x="520.5" y="74.2" font-size="6.4" text-anchor="middle" font-weight="normal" font-family='"Liberation Serif", serif' fill="#111">NS</text>
<line x1="516" y1="77.5" x2="523.5" y2="77.5" stroke="#222" stroke-width="1.0"/>
<text x="538" y="64.2" font-size="6.4" text-anchor="middle" font-weight="normal" font-family='"Liberation Serif", serif' fill="#111">NS</text>
<line x1="533.5" y1="67.5" x2="540.5" y2="67.5" stroke="#222" stroke-width="1.0"/>
<text x="0" y="0" font-size="5.9" font-family='"Liberation Sans", sans-serif' fill="#111" text-anchor="end" transform="translate(437.30 143.6) rotate(-45)">Shikonin</text>
<text x="0" y="0" font-size="5.9" font-family='"Liberation Sans", sans-serif' fill="#111" text-anchor="end" transform="translate(454.33 143.6) rotate(-45)">Rotenone</text>
<text x="0" y="0" font-size="5.9" font-family='"Liberation Sans", sans-serif' fill="#111" text-anchor="end" transform="translate(471.36 143.6) rotate(-45)">DPI</text>
<text x="0" y="0" font-size="5.9" font-family='"Liberation Sans", sans-serif' fill="#111" text-anchor="end" transform="translate(488.39 143.6) rotate(-45)">Methotrexate</text>
<text x="0" y="0" font-size="5.9" font-family='"Liberation Sans", sans-serif' fill="#111" text-anchor="end" transform="translate(505.42 143.6) rotate(-45)">Mebendazole</text>
<text x="0" y="0" font-size="5.9" font-family='"Liberation Sans", sans-serif' fill="#111" text-anchor="end" transform="translate(522.45 143.6) rotate(-45)">Compound 3k</text>
<text x="0" y="0" font-size="5.9" font-family='"Liberation Sans", sans-serif' fill="#111" text-anchor="end" transform="translate(539.48 143.6) rotate(-45)">Elesclomol</text>
<text x="2.6" y="215.4" font-size="11.2" text-anchor="start" font-weight="bold" font-family='"Liberation Sans", sans-serif' fill="#000">C</text>
<path d="M33.5,301.3 V218.6" fill="none" stroke="#444" stroke-width="1"/>
<line x1="33.5" y1="218.5" x2="34.9" y2="218.5" stroke="#222" stroke-width="0.9"/>
<line x1="33.5" y1="246.5" x2="34.9" y2="246.5" stroke="#222" stroke-width="0.9"/>
<line x1="33.5" y1="273.5" x2="34.9" y2="273.5" stroke="#222" stroke-width="0.9"/>
<line x1="33.5" y1="301.5" x2="34.9" y2="301.5" stroke="#222" stroke-width="0.9"/>
<text x="27.6" y="220.7" font-size="6.0" text-anchor="end" font-weight="normal" font-family='"Liberation Sans", sans-serif' fill="#111">150</text>
<text x="27.6" y="248.4" font-size="6.0" text-anchor="end" font-weight="normal" font-family='"Liberation Sans", sans-serif' fill="#111">100</text>
<text x="0" y="0" font-size="8.2" font-family='"Liberation Sans", sans-serif' fill="#111" text-anchor="end" transform="translate(27.6 277.3) scale(0.72 1)">50</text>
<text x="0" y="0" font-size="7.2" font-family='"Liberation Sans", sans-serif' fill="#111" text-anchor="end" transform="translate(27.6 304.0) scale(0.85 1)">0</text>
<line x1="33.0" y1="301.5" x2="152.3" y2="301.5" stroke="#111" stroke-width="1.1"/>
<text x="0" y="0" font-size="7.2" font-family='"Liberation Sans", sans-serif' fill="#111" text-anchor="middle" transform="translate(13.5 261.3) rotate(-90)">Cell viability (%)</text>
<rect x="37.10" y="219.10" width="3.20" height="3.20" fill="#000"/>
<text x="41.3" y="222.6" font-size="6.4" text-anchor="start" font-weight="normal" font-family='"Liberation Sans", sans-serif' fill="#111">OVSAHO</text>
<line x1="53.5" y1="298.2" x2="53.5" y2="297.2" stroke="#333" stroke-width="0.7"/>
<line x1="51.82" y1="297.5" x2="54.419999999999995" y2="297.5" stroke="#333" stroke-width="0.8"/>
<rect x="46.75" y="298.20" width="12.75" height="3.10" fill="#000"/>
<line x1="93.5" y1="275.5" x2="93.5" y2="271.8" stroke="#333" stroke-width="0.7"/>
<line x1="92.07000000000001" y1="271.5" x2="94.67" y2="271.5" stroke="#333" stroke-width="0.8"/>
<rect x="87.00" y="275.50" width="12.75" height="25.80" fill="#000"/>
<line x1="133.5" y1="247.0" x2="133.5" y2="242.6" stroke="#333" stroke-width="0.7"/>
<line x1="131.82" y1="242.5" x2="134.42000000000002" y2="242.5" stroke="#333" stroke-width="0.8"/>
<rect x="126.75" y="247.00" width="12.75" height="54.30" fill="#000"/>
<path d="M54.1,259 V234.9 H133.4 V237.6" fill="none" stroke="#222" stroke-width="0.9"/>
<path d="M54.1,289.5 V265.4 H94.2 V267.5" fill="none" stroke="#222" stroke-width="0.9"/>
<circle cx="84.95" cy="229.9" r="1.25" fill="#111"/>
<circle cx="89.38" cy="229.9" r="1.25" fill="#111"/>
<circle cx="93.81" cy="229.9" r="1.25" fill="#111"/>
<circle cx="98.25" cy="229.9" r="1.25" fill="#111"/>
<circle cx="70.07" cy="261.2" r="1.25" fill="#111"/>
<circle cx="74.50" cy="261.2" r="1.25" fill="#111"/>
<circle cx="78.93" cy="261.2" r="1.25" fill="#111"/>
<text x="53.2" y="313.3" font-size="7.0" text-anchor="middle" font-weight="normal" font-family='"Liberation Sans", sans-serif' fill="#111">Shikonin</text>
<text x="93.2" y="313.3" font-size="7.0" text-anchor="middle" font-weight="normal" font-family='"Liberation Sans", sans-serif' fill="#111">Paclitaxel</text>
<text x="133.0" y="313.3" font-size="7.0" text-anchor="middle" font-weight="normal" font-family='"Liberation Sans", sans-serif' fill="#111">Carboplatin</text>
<text x="180.3" y="216.3" font-size="11.3" text-anchor="start" font-weight="bold" font-family='"Liberation Sans", sans-serif' fill="#000">D</text>
<path d="M208.5,302.6 V219.9" fill="none" stroke="#444" stroke-width="1"/>
<line x1="207.1" y1="220.5" x2="208.5" y2="220.5" stroke="#222" stroke-width="0.9"/>
<line x1="207.1" y1="247.5" x2="208.5" y2="247.5" stroke="#222" stroke-width="0.9"/>
<line x1="207.1" y1="275.5" x2="208.5" y2="275.5" stroke="#222" stroke-width="0.9"/>
<line x1="207.1" y1="302.5" x2="208.5" y2="302.5" stroke="#222" stroke-width="0.9"/>
<text x="203.0" y="222.4" font-size="6.0" text-anchor="end" font-weight="normal" font-family='"Liberation Sans", sans-serif' fill="#111">150</text>
<text x="203.0" y="249.7" font-size="6.0" text-anchor="end" font-weight="normal" font-family='"Liberation Sans", sans-serif' fill="#111">100</text>
<text x="203.0" y="277.5" font-size="6.6" text-anchor="end" font-weight="normal" font-family='"Liberation Sans", sans-serif' fill="#111">50</text>
<text x="203.0" y="305.2" font-size="6.6" text-anchor="end" font-weight="normal" font-family='"Liberation Sans", sans-serif' fill="#111">0</text>
<line x1="208.0" y1="302.90000000000003" x2="348.6" y2="302.90000000000003" stroke="#111" stroke-width="1.1"/>
<text x="0" y="0" font-size="7.2" font-family='"Liberation Sans", sans-serif' fill="#111" text-anchor="middle" transform="translate(190.20 262.5) rotate(-90)">Cell viability (%)</text>
<rect x="215.30" y="216.40" width="3.20" height="3.20" fill="#000"/>
<text x="221.6" y="221.0" font-size="6.6" text-anchor="start" font-weight="normal" font-family='"Liberation Sans", sans-serif' fill="#111">Caov3</text>
<rect x="215.40" y="224.20" width="3.00" height="3.00" fill="#00ff00" stroke="#050" stroke-width="0.5"/>
<text x="221.6" y="228.7" font-size="6.6" text-anchor="start" font-weight="normal" font-family='"Liberation Sans", sans-serif' fill="#111">Caov3-SDHA</text>
<line x1="225.5" y1="258.0" x2="225.5" y2="250.0" stroke="#333" stroke-width="0.7"/>
<line x1="224.0" y1="250.5" x2="226.60000000000002" y2="250.5" stroke="#333" stroke-width="0.8"/>
<line x1="238.5" y1="298.75" x2="238.5" y2="297.3" stroke="#333" stroke-width="0.7"/>
<line x1="237.0" y1="297.5" x2="239.60000000000002" y2="297.5" stroke="#333" stroke-width="0.8"/>
<rect x="220.00" y="258.00" width="10.60" height="44.60" fill="#000"/>
<rect x="233.10" y="298.75" width="10.60" height="3.85" fill="#00ff00" stroke="#053" stroke-width="0.6"/>
<line x1="238.5" y1="298.75" x2="238.5" y2="300.2" stroke="#333" stroke-width="0.7"/>
<line x1="272.5" y1="278.0" x2="272.5" y2="277.3" stroke="#333" stroke-width="0.7"/>
<line x1="270.9" y1="277.5" x2="273.5" y2="277.5" stroke="#333" stroke-width="0.8"/>
<line x1="285.5" y1="274.3" x2="285.5" y2="272.0" stroke="#333" stroke-width="0.7"/>
<line x1="283.9" y1="272.5" x2="286.5" y2="272.5" stroke="#333" stroke-width="0.8"/>
<rect x="266.90" y="278.00" width="10.60" height="24.60" fill="#000"/>
<rect x="280.00" y="274.30" width="10.60" height="28.30" fill="#00ff00" stroke="#053" stroke-width="0.6"/>
<line x1="285.5" y1="274.3" x2="285.5" y2="276.6" stroke="#333" stroke-width="0.7"/>
<line x1="319.5" y1="242.5" x2="319.5" y2="241.3" stroke="#333" stroke-width="0.7"/>
<line x1="317.8" y1="241.5" x2="320.40000000000003" y2="241.5" stroke="#333" stroke-width="0.8"/>
<line x1="332.5" y1="249.3" x2="332.5" y2="245.0" stroke="#333" stroke-width="0.7"/>
<line x1="330.8" y1="245.5" x2="333.40000000000003" y2="245.5" stroke="#333" stroke-width="0.8"/>
<rect x="313.80" y="242.50" width="10.60" height="60.10" fill="#000"/>
<rect x="326.90" y="249.30" width="10.60" height="53.30" fill="#00ff00" stroke="#053" stroke-width="0.6"/>
<line x1="332.5" y1="249.3" x2="332.5" y2="253.60000000000002" stroke="#333" stroke-width="0.7"/>
<circle cx="227.20" cy="241.7" r="1.2" fill="#111"/>
<circle cx="231.60" cy="241.7" r="1.2" fill="#111"/>
<circle cx="236.00" cy="241.7" r="1.2" fill="#111"/>
<line x1="225.2" y1="245.5" x2="238.2" y2="245.5" stroke="#222" stroke-width="1.0"/>
<text x="279.8" y="265.6" font-size="6.4" text-anchor="middle" font-weight="normal" font-family='"Liberation Serif", serif' fill="#111">NS</text>
<line x1="273.3" y1="268.5" x2="286.2" y2="268.5" stroke="#222" stroke-width="1.0"/>
<circle cx="325.00" cy="232.1" r="1.2" fill="#111"/>
<line x1="318.8" y1="236.5" x2="332.0" y2="236.5" stroke="#222" stroke-width="1.0"/>
<text x="232.0" y="313.3" font-size="7.0" text-anchor="middle" font-weight="normal" font-family='"Liberation Sans", sans-serif' fill="#111">Shikonin</text>
<text x="279.0" y="313.3" font-size="7.0" text-anchor="middle" font-weight="normal" font-family='"Liberation Sans", sans-serif' fill="#111">Paclitaxel</text>
<text x="325.6" y="313.3" font-size="7.0" text-anchor="middle" font-weight="normal" font-family='"Liberation Sans", sans-serif' fill="#111">Carboplatin</text>
<text x="370.4" y="218.8" font-size="11.3" text-anchor="start" font-weight="bold" font-family='"Liberation Sans", sans-serif' fill="#000">E</text>
<path d="M398.5,302.6 V219.9" fill="none" stroke="#444" stroke-width="1"/>
<line x1="397.1" y1="220.5" x2="398.5" y2="220.5" stroke="#222" stroke-width="0.9"/>
<line x1="397.1" y1="247.5" x2="398.5" y2="247.5" stroke="#222" stroke-width="0.9"/>
<line x1="397.1" y1="275.5" x2="398.5" y2="275.5" stroke="#222" stroke-width="0.9"/>
<line x1="397.1" y1="302.5" x2="398.5" y2="302.5" stroke="#222" stroke-width="0.9"/>
<text x="393.5" y="222.4" font-size="6.0" text-anchor="end" font-weight="normal" font-family='"Liberation Sans", sans-serif' fill="#111">150</text>
<text x="393.5" y="249.7" font-size="6.0" text-anchor="end" font-weight="normal" font-family='"Liberation Sans", sans-serif' fill="#111">100</text>
<text x="393.5" y="277.5" font-size="6.6" text-anchor="end" font-weight="normal" font-family='"Liberation Sans", sans-serif' fill="#111">50</text>
<text x="393.5" y="305.2" font-size="6.6" text-anchor="end" font-weight="normal" font-family='"Liberation Sans", sans-serif' fill="#111">0</text>
<line x1="398.0" y1="302.90000000000003" x2="539.1" y2="302.90000000000003" stroke="#111" stroke-width="1.1"/>
<text x="0" y="0" font-size="7.2" font-family='"Liberation Sans", sans-serif' fill="#111" text-anchor="middle" transform="translate(380.70 262.5) rotate(-90)">Cell viability (%)</text>
<rect x="405.80" y="216.40" width="3.20" height="3.20" fill="#000"/>
<text x="412.1" y="221.0" font-size="6.6" text-anchor="start" font-weight="normal" font-family='"Liberation Sans", sans-serif' fill="#111">OVCAR3</text>
<rect x="405.90" y="224.20" width="3.00" height="3.00" fill="#00ff00" stroke="#050" stroke-width="0.5"/>
<text x="412.1" y="228.7" font-size="6.6" text-anchor="start" font-weight="normal" font-family='"Liberation Sans", sans-serif' fill="#111">OVCAR3-SDHA</text>
<line x1="415.5" y1="286.3" x2="415.5" y2="283.3" stroke="#333" stroke-width="0.7"/>
<line x1="414.5" y1="283.5" x2="417.1" y2="283.5" stroke="#333" stroke-width="0.8"/>
<line x1="428.5" y1="301.6" x2="428.5" y2="301.0" stroke="#333" stroke-width="0.7"/>
<line x1="427.5" y1="301.5" x2="430.1" y2="301.5" stroke="#333" stroke-width="0.8"/>
<rect x="410.50" y="286.30" width="10.60" height="16.30" fill="#000"/>
<rect x="423.60" y="301.60" width="10.60" height="1.00" fill="#00ff00" stroke="#053" stroke-width="0.6"/>
<line x1="428.5" y1="301.6" x2="428.5" y2="302.20000000000005" stroke="#333" stroke-width="0.7"/>
<line x1="462.5" y1="295.8" x2="462.5" y2="295.0" stroke="#333" stroke-width="0.7"/>
<line x1="461.4" y1="295.5" x2="464.0" y2="295.5" stroke="#333" stroke-width="0.8"/>
<line x1="475.5" y1="300.0" x2="475.5" y2="299.6" stroke="#333" stroke-width="0.7"/>
<line x1="474.4" y1="299.5" x2="477.0" y2="299.5" stroke="#333" stroke-width="0.8"/>
<rect x="457.40" y="295.80" width="10.60" height="6.80" fill="#000"/>
<rect x="470.50" y="300.00" width="10.60" height="2.60" fill="#00ff00" stroke="#053" stroke-width="0.6"/>
<line x1="475.5" y1="300.0" x2="475.5" y2="300.4" stroke="#333" stroke-width="0.7"/>
<line x1="509.5" y1="263.0" x2="509.5" y2="254.3" stroke="#333" stroke-width="0.7"/>
<line x1="508.3" y1="254.5" x2="510.90000000000003" y2="254.5" stroke="#333" stroke-width="0.8"/>
<line x1="522.5" y1="252.5" x2="522.5" y2="250.5" stroke="#333" stroke-width="0.7"/>
<line x1="521.3" y1="250.5" x2="523.8999999999999" y2="250.5" stroke="#333" stroke-width="0.8"/>
<rect x="504.30" y="263.00" width="10.60" height="39.60" fill="#000"/>
<rect x="517.40" y="252.50" width="10.60" height="50.10" fill="#00ff00" stroke="#053" stroke-width="0.6"/>
<line x1="522.5" y1="252.5" x2="522.5" y2="254.5" stroke="#333" stroke-width="0.7"/>
<circle cx="416.60" cy="275.4" r="1.2" fill="#111"/>
<circle cx="421.00" cy="275.4" r="1.2" fill="#111"/>
<circle cx="425.40" cy="275.4" r="1.2" fill="#111"/>
<line x1="414.5" y1="279.5" x2="427.5" y2="279.5" stroke="#222" stroke-width="1.0"/>
<circle cx="463.40" cy="286.6" r="1.2" fill="#111"/>
<circle cx="467.80" cy="286.6" r="1.2" fill="#111"/>
<circle cx="472.20" cy="286.6" r="1.2" fill="#111"/>
<circle cx="476.60" cy="286.6" r="1.2" fill="#111"/>
<line x1="462.5" y1="291.5" x2="477.5" y2="291.5" stroke="#222" stroke-width="1.0"/>
<text x="518.3" y="244.6" font-size="6.4" text-anchor="middle" font-weight="normal" font-family='"Liberation Serif", serif' fill="#111">NS</text>
<line x1="510.5" y1="246.5" x2="524.5" y2="246.5" stroke="#222" stroke-width="1.0"/>
<text x="422.5" y="313.3" font-size="7.0" text-anchor="middle" font-weight="normal" font-family='"Liberation Sans", sans-serif' fill="#111">Shikonin</text>
<text x="469.5" y="313.3" font-size="7.0" text-anchor="middle" font-weight="normal" font-family='"Liberation Sans", sans-serif' fill="#111">Paclitaxel</text>
<text x="516.1" y="313.3" font-size="7.0" text-anchor="middle" font-weight="normal" font-family='"Liberation Sans", sans-serif' fill="#111">Carboplatin</text>
</svg>
</body></html>
